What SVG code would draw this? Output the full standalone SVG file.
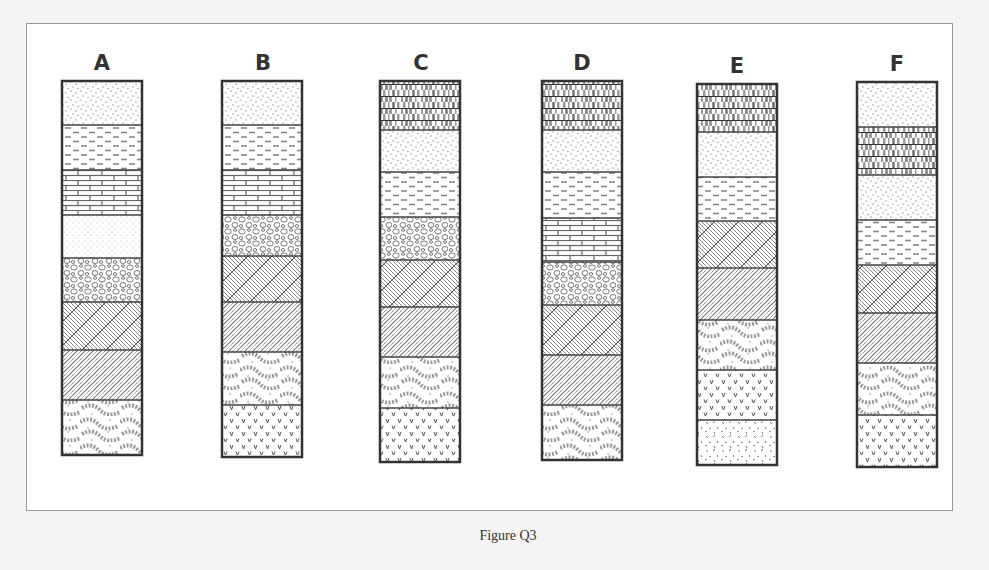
<svg xmlns="http://www.w3.org/2000/svg" width="989" height="570" viewBox="0 0 989 570">
<style>
.col{stroke:#333;stroke-width:2.5;fill:none}
.lay{stroke:#444;stroke-width:1.5}
.lbl{font-family:"DejaVu Sans",sans-serif;font-weight:bold;font-size:21px;fill:#333;text-anchor:middle}
.cap{font-family:"Liberation Serif",serif;font-size:14px;fill:#333;text-anchor:middle}
</style>
<defs>
<pattern id="sand" width="10" height="9" patternUnits="userSpaceOnUse">
<rect width="10" height="9" fill="#fff"/>
<g fill="#888"><circle cx="1" cy="1" r="0.7"/><circle cx="6" cy="3" r="0.7"/><circle cx="3" cy="6" r="0.7"/><circle cx="8" cy="7.5" r="0.7"/></g>
</pattern>
<pattern id="fsand" width="6" height="6" patternUnits="userSpaceOnUse">
<rect width="6" height="6" fill="#fff"/>
<g fill="#aaa"><circle cx="1" cy="1" r="0.5"/><circle cx="4" cy="4" r="0.5"/></g>
</pattern>
<pattern id="shale" width="16" height="9" patternUnits="userSpaceOnUse">
<rect width="16" height="9" fill="#fff"/>
<g stroke="#888" stroke-width="1.6"><line x1="1" y1="2" x2="7" y2="2"/><line x1="9" y1="6.5" x2="15" y2="6.5"/></g>
</pattern>
<pattern id="lime" width="24" height="10" patternUnits="userSpaceOnUse">
<rect width="24" height="10" fill="#fff"/>
<g stroke="#666" stroke-width="1.2"><line x1="0" y1="0.5" x2="24" y2="0.5"/><line x1="0" y1="5.5" x2="24" y2="5.5"/><line x1="6" y1="0" x2="6" y2="5"/><line x1="18" y1="5" x2="18" y2="10"/></g>
</pattern>
<pattern id="cong" width="14" height="12" patternUnits="userSpaceOnUse">
<rect width="14" height="12" fill="#fff"/>
<g stroke="#777" stroke-width="1" fill="none"><ellipse cx="4" cy="3.5" rx="3.2" ry="2.6"/><ellipse cx="11" cy="9" rx="3" ry="2.5"/><ellipse cx="11" cy="2" rx="1.6" ry="1.3"/><ellipse cx="3" cy="10" rx="1.8" ry="1.4"/></g>
</pattern>
<pattern id="xhatch" width="24" height="24" patternUnits="userSpaceOnUse">
<rect width="24" height="24" fill="#fff"/>
<path d="M-2 -2L26 26M2 -2L26 22M6 -2L26 18M10 -2L26 14M14 -2L26 10M18 -2L26 6M22 -2L26 2M-2 2L22 26M-2 6L18 26M-2 10L14 26M-2 14L10 26M-2 18L6 26M-2 22L2 26" stroke="#888" stroke-width="1"/>
<path d="M0 24L24 0" stroke="#444" stroke-width="1"/>
</pattern>
<pattern id="diag" width="8" height="8" patternUnits="userSpaceOnUse">
<rect width="8" height="8" fill="#fff"/>
<path d="M-1 5L5 -1M3 9L9 3M-1 9L1 7" stroke="#777" stroke-width="1.1"/>
<path d="M0 8L8 0" stroke="#999" stroke-width="0.8"/>
</pattern>
<pattern id="gneiss" width="40" height="26" patternUnits="userSpaceOnUse">
<rect width="40" height="26" fill="#fff"/>
<path d="M0 6Q10 0 18 8T38 10M2 18Q12 12 20 20T40 22" stroke="#999" stroke-width="4" fill="none" stroke-dasharray="2 1.5"/>
<g fill="#999"><circle cx="8" cy="12" r="0.8"/><circle cx="30" cy="4" r="0.8"/><circle cx="28" cy="16" r="0.8"/><circle cx="12" cy="24" r="0.8"/></g>
</pattern>
<pattern id="gran" width="12" height="13" patternUnits="userSpaceOnUse">
<rect width="12" height="13" fill="#fff"/>
<path d="M2 3L3.5 7L5 3M8 9.5L9.5 13.5L11 9.5" stroke="#555" stroke-width="1" fill="none"/>
</pattern>
<pattern id="coal" width="20" height="12" patternUnits="userSpaceOnUse">
<rect width="20" height="12" fill="#fff"/>
<g fill="#999"><rect x="1" y="0" width="2" height="6"/><rect x="5" y="0" width="1.5" height="6"/><rect x="9" y="0" width="3" height="6"/><rect x="15" y="0" width="1.5" height="6"/><rect x="3" y="6" width="2.5" height="6"/><rect x="8" y="6" width="1.5" height="6"/><rect x="12" y="6" width="2" height="6"/><rect x="17" y="6" width="2.5" height="6"/></g>
<g stroke="#333" stroke-width="1"><line x1="0" y1="0.5" x2="20" y2="0.5"/><line x1="7" y1="0" x2="7" y2="6"/><line x1="14" y1="6" x2="14" y2="12"/></g>
</pattern>
<pattern id="basalt" width="16" height="14" patternUnits="userSpaceOnUse">
<rect width="16" height="14" fill="#fff"/>
<path d="M2 2L4 4M9 3L11 1M13 7L14 9M5 9L7 8M1 12L3 11M10 12L11 14" stroke="#777" stroke-width="1"/>
</pattern>
</defs>
<rect width="989" height="570" fill="#f4f4f4"/>
<rect x="26.5" y="23.5" width="926" height="487" fill="#fff" stroke="#999"/>

<g id="colA">
<text class="lbl" x="102" y="70">A</text>
<rect x="62" y="81" width="80" height="44" fill="url(#sand)"/>
<rect x="62" y="125" width="80" height="45" fill="url(#shale)"/>
<rect x="62" y="170" width="80" height="45" fill="url(#lime)"/>
<rect x="62" y="215" width="80" height="43" fill="url(#fsand)"/>
<rect x="62" y="258" width="80" height="44" fill="url(#cong)"/>
<rect x="62" y="302" width="80" height="48" fill="url(#xhatch)"/>
<rect x="62" y="350" width="80" height="50" fill="url(#diag)"/>
<rect x="62" y="400" width="80" height="55" fill="url(#gneiss)"/>
<path class="lay" d="M62 125H142M62 170H142M62 215H142M62 258H142M62 302H142M62 350H142M62 400H142"/>
<rect class="col" x="62" y="81" width="80" height="374"/>
</g>

<g id="colB">
<text class="lbl" x="263" y="70">B</text>
<rect x="222" y="81" width="80" height="44" fill="url(#sand)"/>
<rect x="222" y="125" width="80" height="45" fill="url(#shale)"/>
<rect x="222" y="170" width="80" height="45" fill="url(#lime)"/>
<rect x="222" y="215" width="80" height="41" fill="url(#cong)"/>
<rect x="222" y="256" width="80" height="46" fill="url(#xhatch)"/>
<rect x="222" y="302" width="80" height="50" fill="url(#diag)"/>
<rect x="222" y="352" width="80" height="53" fill="url(#gneiss)"/>
<rect x="222" y="405" width="80" height="52" fill="url(#gran)"/>
<path class="lay" d="M222 125H302M222 170H302M222 215H302M222 256H302M222 302H302M222 352H302M222 405H302"/>
<rect class="col" x="222" y="81" width="80" height="376"/>
</g>

<g id="colC">
<text class="lbl" x="421" y="70">C</text>
<rect x="380" y="81" width="80" height="49" fill="url(#coal)"/>
<rect x="380" y="130" width="80" height="42" fill="url(#sand)"/>
<rect x="380" y="172" width="80" height="45" fill="url(#shale)"/>
<rect x="380" y="217" width="80" height="43" fill="url(#cong)"/>
<rect x="380" y="260" width="80" height="47" fill="url(#xhatch)"/>
<rect x="380" y="307" width="80" height="50" fill="url(#diag)"/>
<rect x="380" y="357" width="80" height="51" fill="url(#gneiss)"/>
<rect x="380" y="408" width="80" height="54" fill="url(#gran)"/>
<path class="lay" d="M380 130H460M380 172H460M380 217H460M380 260H460M380 307H460M380 357H460M380 408H460"/>
<rect class="col" x="380" y="81" width="80" height="381"/>
</g>

<g id="colD">
<text class="lbl" x="582" y="70">D</text>
<rect x="542" y="81" width="80" height="49" fill="url(#coal)"/>
<rect x="542" y="130" width="80" height="42" fill="url(#sand)"/>
<rect x="542" y="172" width="80" height="46" fill="url(#shale)"/>
<rect x="542" y="218" width="80" height="44" fill="url(#lime)"/>
<rect x="542" y="262" width="80" height="43" fill="url(#cong)"/>
<rect x="542" y="305" width="80" height="50" fill="url(#xhatch)"/>
<rect x="542" y="355" width="80" height="50" fill="url(#diag)"/>
<rect x="542" y="405" width="80" height="55" fill="url(#gneiss)"/>
<path class="lay" d="M542 130H622M542 172H622M542 218H622M542 262H622M542 305H622M542 355H622M542 405H622"/>
<rect class="col" x="542" y="81" width="80" height="379"/>
</g>

<g id="colE">
<text class="lbl" x="737" y="73">E</text>
<rect x="697" y="84" width="80" height="48" fill="url(#coal)"/>
<rect x="697" y="132" width="80" height="45" fill="url(#sand)"/>
<rect x="697" y="177" width="80" height="44" fill="url(#shale)"/>
<rect x="697" y="221" width="80" height="47" fill="url(#xhatch)"/>
<rect x="697" y="268" width="80" height="52" fill="url(#diag)"/>
<rect x="697" y="320" width="80" height="50" fill="url(#gneiss)"/>
<rect x="697" y="370" width="80" height="50" fill="url(#gran)"/>
<rect x="697" y="420" width="80" height="45" fill="url(#basalt)"/>
<path class="lay" d="M697 132H777M697 177H777M697 221H777M697 268H777M697 320H777M697 370H777M697 420H777"/>
<rect class="col" x="697" y="84" width="80" height="381"/>
</g>

<g id="colF">
<text class="lbl" x="897" y="71">F</text>
<rect x="857" y="82" width="80" height="45" fill="url(#sand)"/>
<rect x="857" y="127" width="80" height="48" fill="url(#coal)"/>
<rect x="857" y="175" width="80" height="45" fill="url(#sand)"/>
<rect x="857" y="220" width="80" height="45" fill="url(#shale)"/>
<rect x="857" y="265" width="80" height="48" fill="url(#xhatch)"/>
<rect x="857" y="313" width="80" height="50" fill="url(#diag)"/>
<rect x="857" y="363" width="80" height="52" fill="url(#gneiss)"/>
<rect x="857" y="415" width="80" height="52" fill="url(#gran)"/>
<path class="lay" d="M857 127H937M857 175H937M857 220H937M857 265H937M857 313H937M857 363H937M857 415H937"/>
<rect class="col" x="857" y="82" width="80" height="385"/>
</g>

<text class="cap" x="508" y="540">Figure Q3</text>
</svg>
